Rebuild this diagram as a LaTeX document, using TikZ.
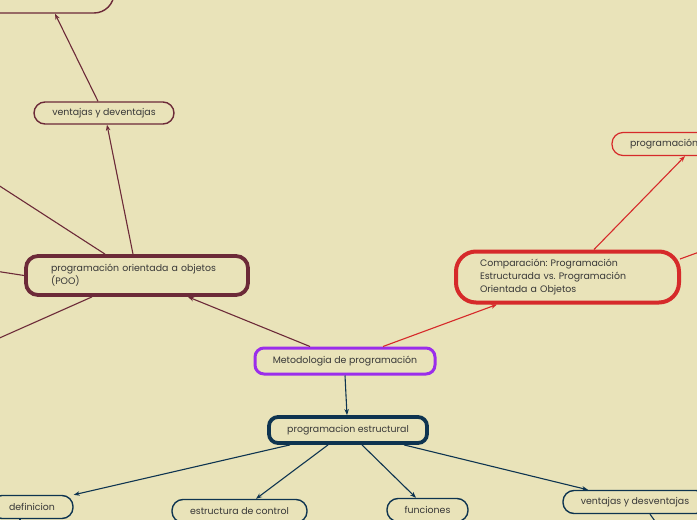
\documentclass[tikz,border=0pt]{standalone}
\usepackage{fontspec}
\setmainfont{Poppins}
\frenchspacing
\usetikzlibrary{arrows.meta,calc}
\definecolor{bg}{RGB}{233,227,185}
\definecolor{maroon}{RGB}{108,42,56}
\definecolor{navy}{RGB}{14,52,80}
\definecolor{redc}{RGB}{214,42,42}
\definecolor{purp}{RGB}{155,45,235}
\definecolor{txt}{RGB}{55,55,55}
\tikzset{
  box/.style={draw, rectangle, inner sep=0pt, text=txt, font=\fontsize{9.4}{13}\selectfont, align=center},
  thinbox/.style={box, line width=1.4pt, rounded corners=11pt},
  thickbox/.style={box, line width=3.8pt, rounded corners=12pt},
  arr/.style={line width=1.1pt, -{Stealth[length=6pt,width=4.5pt]}},
  ln/.style={line width=1.1pt},
}
\begin{document}
\begin{tikzpicture}[x=1pt,y=-1pt]
\fill[bg] (0,0) rectangle (697,520);
\useasboundingbox (0,0) rectangle (697,520);
\clip (0,0) rectangle (697,520);
% nodes
\node[thinbox, draw=maroon, minimum width=214pt, minimum height=43pt, rounded corners=20pt] (top) at (7,-8.5) {};
\node[thinbox, draw=maroon, minimum width=140pt, minimum height=22pt] (vent1) at (104,113) {ventajas y deventajas};
\node[thickbox, draw=maroon, minimum width=222pt, minimum height=39pt, text width=172pt, inner xsep=25pt, align=left] (poo) at (137,275.5) {programación orientada a objetos\\(POO)};
\node[thickbox, draw=purp, line width=3pt, minimum width=180pt, minimum height=26pt, rounded corners=9pt] (met) at (345,361) {Metodologia de programación};
\node[thickbox, draw=redc, line width=4pt, minimum width=223pt, minimum height=51pt, text width=175pt, inner xsep=24pt, align=left, rounded corners=20pt] (comp) at (567.5,277) {Comparación: Programación\\Estructurada vs. Programación\\Orientada a Objetos};
\node[thinbox, draw=redc, line width=1.2pt, minimum width=188pt, minimum height=23pt, text width=152pt, inner xsep=18pt, align=left] (progR) at (706,144) {programación};
\node[thickbox, draw=navy, minimum width=158pt, minimum height=26pt, rounded corners=9pt] (estr) at (348,430) {programacion estructural};
\node[thinbox, draw=navy, minimum width=82pt, minimum height=23pt] (defi) at (32,507) {definicion};
\node[thinbox, draw=navy, minimum width=135pt, minimum height=23pt] (ectl) at (239.5,511) {estructura de control};
\node[thinbox, draw=navy, minimum width=81pt, minimum height=23pt] (func) at (427.5,510) {funciones};
\node[thinbox, draw=navy, minimum width=144pt, minimum height=23pt] (vent2) at (635,502) {ventajas y desventajas};
% off-page coordinates
\coordinate (o1) at (-5,183);
\coordinate (o2) at (-5,271);
\coordinate (o3) at (-5,340);
\coordinate (o4) at (702,251);
\coordinate (o5) at (660,528);
\coordinate (o6) at (20,528);
% connectors
\draw[arr, maroon] ([xshift=-6pt]vent1.north) -- ([xshift=48pt]top.south);
\draw[arr, maroon] ([xshift=-4pt]poo.north) -- ([xshift=3pt]vent1.south);
\draw[ln, maroon] ([xshift=-32pt]poo.north) -- (o1);
\draw[ln, maroon] (poo.west) -- (o2);
\draw[ln, maroon] ([xshift=-45pt]poo.south) -- (o3);
\draw[arr, maroon] ([xshift=-35pt]met.north) -- ([xshift=51pt]poo.south);
\draw[arr, redc] ([xshift=38pt]met.north) -- ([xshift=-70.5pt]comp.south);
\draw[arr, redc] ([xshift=26.5pt]comp.north) -- ([xshift=-21pt]progR.south);
\draw[ln, redc] ([xshift=-1pt,yshift=18pt]comp.east) -- (o4);
\draw[arr, navy] (met.south) -- ([xshift=-1pt]estr.north);
\draw[arr, navy] ([xshift=-58pt]estr.south) -- (defi.north east);
\draw[arr, navy] ([xshift=-20pt]estr.south) -- ([xshift=16.5pt]ectl.north);
\draw[arr, navy] ([xshift=14pt]estr.south) -- ([xshift=-11.5pt]func.north);
\draw[arr, navy] ([xshift=56pt]estr.south) -- ([xshift=-47pt]vent2.north);
\draw[ln, navy] ([xshift=15pt]vent2.south) -- (o5);
\draw[ln, navy] ([xshift=-12pt]defi.south) -- (o6);
\end{tikzpicture}
\end{document}
